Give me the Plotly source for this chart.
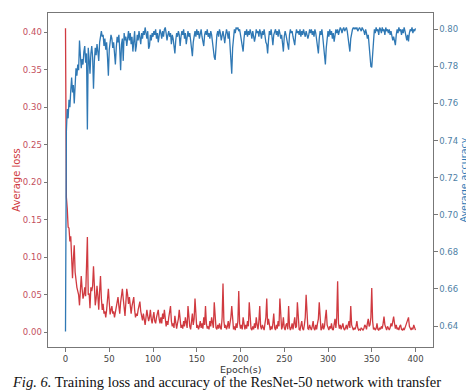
import plotly.graph_objects as go

# ---------------- data ----------------
loss = [
    0.405, 0.180, 0.165, 0.140, 0.139, 0.121, 0.128, 0.085, 0.072, 0.098,
    0.116, 0.080, 0.063, 0.060, 0.055, 0.050, 0.036, 0.052, 0.075, 0.058,
    0.045, 0.050, 0.060, 0.048, 0.083, 0.127, 0.050, 0.052, 0.032, 0.060,
    0.055, 0.062, 0.088, 0.055, 0.036, 0.045, 0.062, 0.048, 0.030, 0.055,
    0.075, 0.045, 0.030, 0.038, 0.025, 0.028, 0.020, 0.030, 0.042, 0.058,
    0.040, 0.024, 0.030, 0.035, 0.025, 0.028, 0.020, 0.026, 0.032, 0.040,
    0.047, 0.035, 0.025, 0.040, 0.052, 0.058, 0.045, 0.030, 0.022, 0.040,
    0.058, 0.050, 0.038, 0.047, 0.030, 0.025, 0.035, 0.040, 0.047, 0.030,
    0.020, 0.025, 0.022, 0.030, 0.035, 0.041, 0.028, 0.020, 0.016, 0.025,
    0.018, 0.010, 0.020, 0.030, 0.022, 0.015, 0.020, 0.030, 0.018, 0.012,
    0.020, 0.027, 0.015, 0.012, 0.020, 0.025, 0.030, 0.018, 0.012, 0.020,
    0.012, 0.025, 0.018, 0.030, 0.012, 0.008,
    0.015, 0.010, 0.020, 0.028, 0.035, 0.015, 0.008, 0.012, 0.006, 0.022,
    0.010, 0.005, 0.012, 0.018, 0.030, 0.012, 0.006, 0.010, 0.005, 0.015,
    0.008, 0.020, 0.012, 0.006, 0.035, 0.015, 0.008, 0.004, 0.012, 0.025,
    0.010, 0.018, 0.045, 0.012, 0.006, 0.010, 0.004, 0.008, 0.015, 0.006,
    0.012, 0.005, 0.020, 0.010, 0.035, 0.012, 0.005, 0.008, 0.004, 0.015,
    0.008, 0.020, 0.012, 0.006, 0.040, 0.018, 0.006, 0.004, 0.010, 0.005,
    0.012, 0.006, 0.004, 0.020, 0.065, 0.015, 0.006, 0.010, 0.004, 0.008,
    0.015, 0.005, 0.012, 0.020, 0.035, 0.010, 0.004, 0.008, 0.003, 0.012,
    0.006, 0.015, 0.055, 0.012, 0.005, 0.010, 0.004, 0.020, 0.008, 0.004,
    0.010, 0.005, 0.015, 0.008, 0.040, 0.012, 0.005, 0.003, 0.008, 0.004,
    0.012, 0.006, 0.020, 0.010, 0.004, 0.015, 0.035, 0.008, 0.004, 0.010,
    0.005, 0.003, 0.012, 0.020, 0.045, 0.010, 0.018, 0.005, 0.003, 0.008,
    0.004, 0.012, 0.025, 0.006, 0.003, 0.010, 0.005, 0.015, 0.008, 0.045,
    0.010, 0.004, 0.008, 0.020, 0.006, 0.003, 0.010, 0.012, 0.004, 0.035,
    0.008, 0.003, 0.006, 0.012, 0.004, 0.010, 0.020, 0.006, 0.008, 0.040,
    0.010, 0.004, 0.003, 0.008, 0.015, 0.005, 0.003, 0.010, 0.020, 0.050,
    0.012, 0.005, 0.004, 0.010, 0.006, 0.003, 0.008, 0.015, 0.005, 0.003,
    0.010, 0.004, 0.012, 0.018, 0.040, 0.008, 0.003, 0.005, 0.012, 0.004,
    0.008, 0.020, 0.030, 0.010, 0.004, 0.003, 0.008, 0.005, 0.012, 0.004,
    0.003, 0.010, 0.018, 0.006, 0.020, 0.068, 0.012, 0.005, 0.010, 0.004,
    0.008, 0.012, 0.005, 0.003, 0.006, 0.010, 0.004, 0.008, 0.015, 0.006,
    0.035, 0.010, 0.004, 0.003, 0.006, 0.004, 0.008, 0.015, 0.006, 0.003,
    0.004, 0.003, 0.006, 0.004, 0.003, 0.005, 0.010, 0.008, 0.004, 0.012,
    0.018, 0.008, 0.010, 0.020, 0.059, 0.015, 0.004, 0.006, 0.003, 0.005,
    0.012, 0.004, 0.003, 0.006, 0.004, 0.008, 0.005, 0.012, 0.021, 0.010,
    0.004, 0.003, 0.008, 0.005, 0.003, 0.006, 0.012, 0.008, 0.015, 0.021,
    0.012, 0.005, 0.010, 0.004, 0.006, 0.003, 0.008, 0.010, 0.004, 0.003,
    0.005, 0.003, 0.006, 0.010, 0.012, 0.015, 0.020, 0.008, 0.004, 0.003,
    0.006, 0.004, 0.010, 0.005, 0.003,
]

accuracy = [
    0.637, 0.745, 0.757, 0.752, 0.762, 0.758, 0.767, 0.774, 0.766, 0.770,
    0.760, 0.772, 0.779, 0.775, 0.781, 0.778, 0.794, 0.786, 0.779, 0.784,
    0.781, 0.788, 0.791, 0.782, 0.787, 0.746, 0.790, 0.784, 0.776, 0.787,
    0.791, 0.785, 0.768, 0.783, 0.790, 0.786, 0.792, 0.788, 0.783, 0.793,
    0.796, 0.799, 0.796, 0.797, 0.791, 0.795, 0.789, 0.793, 0.785, 0.775,
    0.789, 0.794, 0.797, 0.795, 0.790, 0.793, 0.786, 0.781, 0.790, 0.796,
    0.793, 0.797, 0.789, 0.778, 0.792, 0.795, 0.783, 0.798, 0.794, 0.796,
    0.791, 0.797, 0.799, 0.794, 0.798, 0.792, 0.796, 0.788, 0.795, 0.799,
    0.788, 0.791, 0.797, 0.794, 0.799, 0.796, 0.792, 0.798, 0.795, 0.799,
    0.797, 0.801, 0.798, 0.795, 0.799, 0.7895, 0.791, 0.797, 0.794, 0.798,
    0.796, 0.799, 0.797, 0.800, 0.795, 0.798, 0.793, 0.797, 0.800, 0.798,
    0.795, 0.799, 0.796, 0.800, 0.801, 0.798, 0.794, 0.797, 0.799, 0.796,
    0.798, 0.792, 0.797, 0.795, 0.790, 0.787, 0.794, 0.798, 0.796, 0.799,
    0.797, 0.791, 0.796, 0.799, 0.797, 0.800, 0.795, 0.798, 0.792, 0.797,
    0.799, 0.796, 0.798, 0.794, 0.790, 0.7855, 0.793, 0.797, 0.799, 0.796,
    0.800, 0.797, 0.799, 0.795, 0.798, 0.800, 0.796, 0.793, 0.791, 0.797,
    0.799, 0.797, 0.800, 0.796, 0.798, 0.795, 0.799, 0.797, 0.792, 0.788,
    0.785, 0.7835, 0.792, 0.797, 0.799, 0.796, 0.800, 0.798, 0.794, 0.797,
    0.799, 0.796, 0.7925, 0.797, 0.800, 0.798, 0.795, 0.799, 0.793, 0.785,
    0.776, 0.790, 0.797, 0.800, 0.798, 0.801, 0.800, 0.801, 0.799, 0.800,
    0.797, 0.794, 0.790, 0.788, 0.795, 0.799, 0.797, 0.800, 0.796, 0.799,
    0.797, 0.800, 0.798, 0.795, 0.799, 0.797, 0.7934, 0.796, 0.800, 0.798,
    0.799, 0.796, 0.800, 0.798, 0.795, 0.799, 0.797, 0.800, 0.796, 0.793,
    0.792, 0.787, 0.794, 0.799, 0.797, 0.800, 0.796, 0.7915, 0.797, 0.799,
    0.800, 0.797, 0.799, 0.796, 0.800, 0.798, 0.795, 0.797, 0.792, 0.788,
    0.796, 0.799, 0.797, 0.794, 0.791, 0.789, 0.797, 0.800, 0.798, 0.799,
    0.796, 0.793, 0.7915, 0.797, 0.800, 0.798, 0.799, 0.797, 0.800, 0.796,
    0.799, 0.797, 0.800, 0.798, 0.796, 0.799, 0.797, 0.795, 0.797, 0.800,
    0.798, 0.800, 0.797, 0.799, 0.796, 0.800, 0.798, 0.794, 0.791, 0.787,
    0.795, 0.799, 0.797, 0.800, 0.796, 0.792, 0.786, 0.781, 0.790, 0.797,
    0.799, 0.796, 0.800, 0.797, 0.799, 0.795, 0.798, 0.7934, 0.797, 0.800,
    0.798, 0.800, 0.797, 0.799, 0.801, 0.800, 0.798, 0.800, 0.801, 0.799,
    0.800, 0.801, 0.799, 0.796, 0.792, 0.788, 0.795, 0.799, 0.800, 0.801,
    0.800, 0.801, 0.800, 0.801, 0.799, 0.800, 0.801, 0.800, 0.799, 0.801,
    0.800, 0.799, 0.797, 0.800, 0.798, 0.795, 0.797, 0.792, 0.786, 0.780,
    0.7795, 0.789, 0.797, 0.800, 0.798, 0.801, 0.799, 0.800, 0.797, 0.801,
    0.800, 0.798, 0.801, 0.799, 0.800, 0.797, 0.801, 0.799, 0.800, 0.798,
    0.800, 0.797, 0.799, 0.796, 0.794, 0.796, 0.793, 0.7915, 0.797, 0.800,
    0.798, 0.801, 0.799, 0.800, 0.797, 0.800, 0.798, 0.801, 0.799, 0.796,
    0.794, 0.797, 0.7935, 0.798, 0.800, 0.799, 0.801, 0.798, 0.800, 0.799,
    0.8005,
]

epochs = list(range(len(loss)))
x_ticks = [0, 50, 100, 150, 200, 250, 300, 350, 400]
loss_ticks = [0.00, 0.05, 0.10, 0.15, 0.20, 0.25, 0.30, 0.35, 0.40]
acc_ticks = [0.64, 0.66, 0.68, 0.70, 0.72, 0.74, 0.76, 0.78, 0.80]

x_title = "Epoch(s)"
loss_title = "Average loss"
acc_title = "Average accuracy"
caption = "<i>Fig. 6.</i> Training loss and accuracy of the ResNet-50 network with transfer"

# ---------------- styling ----------------
RED = "#d03a40"
BLUE = "#2f78b4"
RED_TXT = "#c4505e"
BLUE_TXT = "#4f7fa6"
FRAME = "#777777"
FONT = "DejaVu Sans"

fig = go.Figure()
fig.add_trace(go.Scatter(x=epochs, y=loss, mode="lines", yaxis="y",
                         line=dict(color=RED, width=1.3), showlegend=False))
fig.add_trace(go.Scatter(x=epochs, y=accuracy, mode="lines", yaxis="y2",
                         line=dict(color=BLUE, width=1.3), showlegend=False))

W, H = 474, 391
L, R, T, B = 40, 49, 5, 52

fig.update_layout(
    width=W, height=H,
    margin=dict(l=L, r=R, t=T, b=B, autoexpand=False),
    paper_bgcolor="white", plot_bgcolor="white",
    font=dict(family=FONT, size=9, color="#444"),
    xaxis=dict(
        range=[-20, 420], tickvals=x_ticks, ticktext=[str(v) for v in x_ticks],
        showgrid=False, zeroline=False, showline=True, mirror=True,
        linecolor=FRAME, linewidth=1, ticks="outside", ticklen=3.5,
        tickcolor=FRAME, tickfont=dict(size=8.5, color="#444"),
        automargin=False,
    ),
    yaxis=dict(
        range=[-0.0195, 0.4253], tickvals=loss_ticks,
        ticktext=[f"{v:.2f}" for v in loss_ticks],
        showgrid=False, zeroline=False, showline=True,
        linecolor=FRAME, linewidth=1, ticks="outside", ticklen=3.5,
        tickcolor=FRAME, tickfont=dict(size=8.5, color=RED_TXT),
        title=dict(text=loss_title, font=dict(family=FONT, size=10, color=RED), standoff=0),
        automargin=False,
    ),
    yaxis2=dict(
        range=[0.6287, 0.8088], tickvals=acc_ticks,
        ticktext=[f"{v:.2f}" for v in acc_ticks],
        overlaying="y", side="right",
        showgrid=False, zeroline=False, showline=True,
        linecolor=FRAME, linewidth=1, ticks="outside", ticklen=3.5,
        tickcolor=FRAME, tickfont=dict(size=8.5, color=BLUE_TXT),
        title=dict(text=acc_title, font=dict(family=FONT, size=9.5, color=BLUE), standoff=0),
        automargin=False,
    ),
)

pw = W - L - R
ph = H - T - B

def px(xp):
    return (xp - L) / pw

def py(yp):
    return (H - B - yp) / ph

fig.add_annotation(text=x_title, x=px(232), y=py(361), xref="paper", yref="paper",
                   showarrow=False, xanchor="center", yanchor="middle",
                   font=dict(family=FONT, size=9.5, color="#333"))
fig.add_annotation(text=caption, x=px(2), y=py(374), xref="paper", yref="paper",
                   showarrow=False, xanchor="left", yanchor="middle",
                   font=dict(family="Liberation Serif", size=14.5, color="#111"))

fig.write_html("out.html")
